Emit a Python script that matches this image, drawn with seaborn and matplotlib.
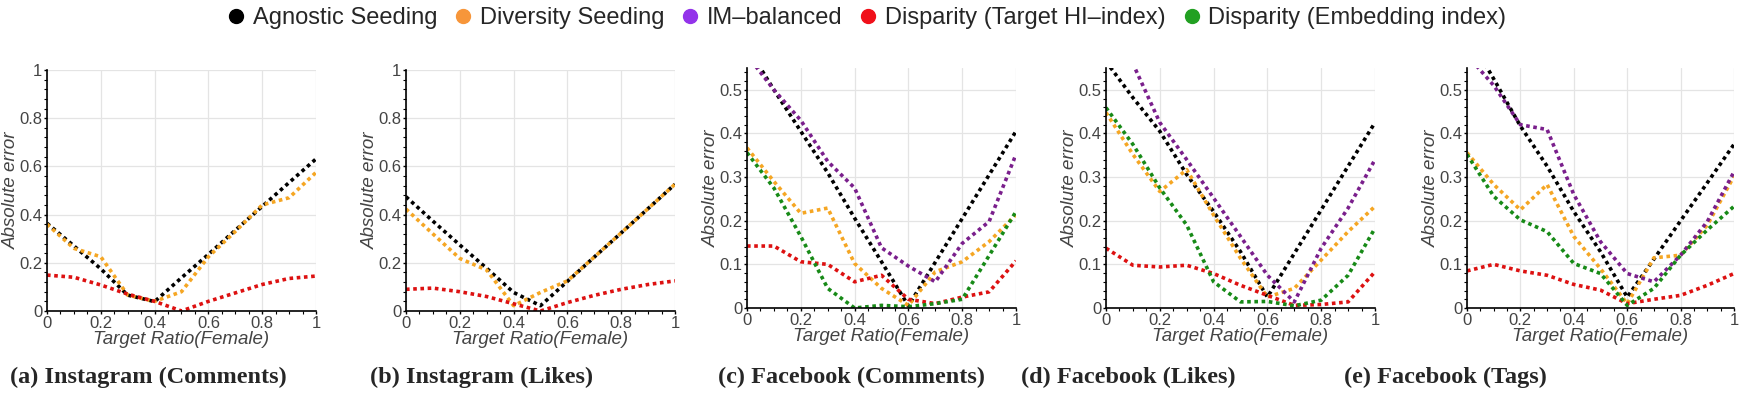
import numpy as np
import pandas as pd
import seaborn as sns
import matplotlib.pyplot as plt
from matplotlib.lines import Line2D
from matplotlib.ticker import AutoMinorLocator, FuncFormatter

# target ratio (female)
ratios = [0.0, 0.1, 0.2, 0.3, 0.4, 0.5, 0.6, 0.7, 0.8, 0.9, 1.0]

methods = ["Agnostic Seeding", "Diversity Seeding", "IM\u2013balanced",
           "Disparity (Target HI\u2013index)", "Disparity (Embedding index)"]

# (a) Instagram (Comments)
ig_com_agnostic = [0.364, 0.27, 0.175, 0.066, 0.039, 0.138, 0.235, 0.335, 0.434, 0.533, 0.631]
ig_com_diversity = [0.36, 0.26, 0.225, 0.066, 0.04, 0.08, 0.225, 0.33, 0.44, 0.47, 0.575]
ig_com_hindex = [0.149, 0.14, 0.108, 0.07, 0.04, 0.0, 0.04, 0.075, 0.11, 0.135, 0.145]

# (b) Instagram (Likes)
ig_like_agnostic = [0.474, 0.373, 0.274, 0.177, 0.077, 0.022, 0.123, 0.224, 0.324, 0.425, 0.526]
ig_like_diversity = [0.423, 0.32, 0.218, 0.17, 0.022, 0.077, 0.125, 0.224, 0.324, 0.425, 0.526]
ig_like_hindex = [0.09, 0.095, 0.08, 0.06, 0.03, 0.0, 0.035, 0.065, 0.09, 0.11, 0.125]

# (c) Facebook (Comments)
fb_com_agnostic = [0.60, 0.50, 0.405, 0.31, 0.206, 0.106, 0.005, 0.105, 0.205, 0.305, 0.405]
fb_com_diversity = [0.367, 0.29, 0.217, 0.229, 0.102, 0.045, 0.006, 0.083, 0.106, 0.152, 0.214]
fb_com_imbal = [0.58, 0.50, 0.43, 0.336, 0.275, 0.138, 0.096, 0.06, 0.148, 0.198, 0.352]
fb_com_hindex = [0.142, 0.142, 0.106, 0.10, 0.06, 0.075, 0.02, 0.01, 0.025, 0.037, 0.108]
fb_com_embed = [0.356, 0.275, 0.164, 0.045, 0.0, 0.006, 0.003, 0.01, 0.02, 0.12, 0.221]

# (d) Facebook (Likes)
fb_like_agnostic = [0.565, 0.482, 0.405, 0.306, 0.221, 0.129, 0.025, 0.125, 0.225, 0.325, 0.425]
fb_like_diversity = [0.448, 0.352, 0.267, 0.317, 0.213, 0.114, 0.025, 0.045, 0.11, 0.175, 0.233]
fb_like_imbal = [0.66, 0.56, 0.425, 0.34, 0.252, 0.164, 0.075, 0.014, 0.137, 0.229, 0.34]
fb_like_hindex = [0.137, 0.098, 0.094, 0.098, 0.079, 0.052, 0.029, 0.006, 0.008, 0.014, 0.083]
fb_like_embed = [0.459, 0.375, 0.275, 0.19, 0.06, 0.014, 0.015, 0.005, 0.018, 0.075, 0.183]

# (e) Facebook (Tags)
fb_tag_agnostic = [0.63, 0.525, 0.417, 0.325, 0.221, 0.129, 0.025, 0.112, 0.20, 0.287, 0.375]
fb_tag_diversity = [0.356, 0.283, 0.225, 0.283, 0.164, 0.09, 0.01, 0.115, 0.121, 0.19, 0.302]
fb_tag_imbal = [0.58, 0.51, 0.42, 0.409, 0.26, 0.152, 0.079, 0.06, 0.121, 0.198, 0.312]
fb_tag_hindex = [0.085, 0.10, 0.085, 0.075, 0.054, 0.041, 0.01, 0.02, 0.029, 0.052, 0.079]
fb_tag_embed = [0.352, 0.256, 0.202, 0.175, 0.102, 0.079, 0.006, 0.045, 0.121, 0.179, 0.233]

captions = ["(a) Instagram (Comments)", "(b) Instagram (Likes)", "(c) Facebook (Comments)",
            "(d) Facebook (Likes)", "(e) Facebook (Tags)"]

A, D, I, H_, E = methods
panels = [
    {A: ig_com_agnostic, D: ig_com_diversity, H_: ig_com_hindex},
    {A: ig_like_agnostic, D: ig_like_diversity, H_: ig_like_hindex},
    {A: fb_com_agnostic, D: fb_com_diversity, I: fb_com_imbal, H_: fb_com_hindex, E: fb_com_embed},
    {A: fb_like_agnostic, D: fb_like_diversity, I: fb_like_imbal, H_: fb_like_hindex, E: fb_like_embed},
    {A: fb_tag_agnostic, D: fb_tag_diversity, I: fb_tag_imbal, H_: fb_tag_hindex, E: fb_tag_embed},
]
ylims = [1.0, 1.0, 0.55, 0.55, 0.55]

line_colors = {A: "#000000", D: "#F5A623", I: "#7A1F8C", H_: "#DD1111", E: "#178A17"}
legend_colors = ["#000000", "#F7963A", "#9333EA", "#F0101A", "#22A022"]

sns.set_theme(style="whitegrid")
plt.rcParams["font.family"] = ["Liberation Sans", "DejaVu Sans"]

fig = plt.figure(figsize=(17.4, 3.99), dpi=100)
W, H = 1740, 399
lefts = [47, 406, 747, 1106, 1467]
widths = [269, 269, 269, 269, 267]
tops = [70, 70, 68, 68, 68]
bottoms = [311, 311, 308, 308, 308]
cap_x = [148, 482, 852, 1128, 1445]

for i, data in enumerate(panels):
    ax = fig.add_axes([lefts[i] / W, 1 - bottoms[i] / H, widths[i] / W, (bottoms[i] - tops[i]) / H])
    rows = []
    for name, vals in data.items():
        for x, y in zip(ratios, vals):
            rows.append({"ratio": x, "error": y, "method": name})
    df = pd.DataFrame(rows)
    sns.lineplot(data=df, x="ratio", y="error", hue="method", palette=line_colors,
                 ax=ax, legend=False, linewidth=2.6, dashes=False)
    for ln in ax.get_lines():
        ln.set_linestyle((0, (1, 1)))
    ax.set_xlim(0, 1)
    ax.set_ylim(0, ylims[i])
    ax.set_xticks([0, 0.2, 0.4, 0.6, 0.8, 1.0])
    if ylims[i] == 1.0:
        ax.set_yticks([0, 0.2, 0.4, 0.6, 0.8, 1.0])
    else:
        ax.set_yticks([0, 0.1, 0.2, 0.3, 0.4, 0.5])
    fmt = FuncFormatter(lambda v, p: "{:g}".format(round(v, 2)))
    ax.xaxis.set_major_formatter(fmt)
    ax.yaxis.set_major_formatter(fmt)
    ax.xaxis.set_minor_locator(AutoMinorLocator(4))
    ax.yaxis.set_minor_locator(AutoMinorLocator(5))
    ax.grid(True, which="major", color="#e4e4e4", linewidth=0.9)
    ax.grid(False, which="minor")
    for s in ["top", "right"]:
        ax.spines[s].set_visible(False)
    for s in ["left", "bottom"]:
        ax.spines[s].set_color("black")
        ax.spines[s].set_linewidth(1.2)
    ax.tick_params(which="major", direction="out", length=2.5, width=1, color="black",
                   labelsize=12, labelcolor="#444444", pad=1, left=True, bottom=True)
    ax.tick_params(which="minor", direction="out", length=2, width=0.8, color="black",
                   left=True, bottom=True)
    ax.set_xlabel("Target Ratio(Female)", fontsize=13.5, style="italic", color="#444444", labelpad=0)
    ax.set_ylabel("Absolute error", fontsize=13.5, style="italic", color="#444444", labelpad=-1)
    ax.set_facecolor("white")
    fig.text(cap_x[i] / W, 1 - 377 / H, captions[i], ha="center", va="center",
             fontsize=17.5, fontweight="bold", family=["Liberation Serif", "DejaVu Serif"])

handles = [Line2D([0], [0], marker="o", linestyle="none", markersize=10,
                  markerfacecolor=c, markeredgecolor=c) for c in legend_colors]
fig.legend(handles, methods, loc="center", bbox_to_anchor=(0.498, 1 - 18 / H), ncol=5,
           frameon=False, fontsize=17, handletextpad=0.3, columnspacing=0.7,
           borderpad=0, handlelength=0.8)

fig.savefig("out.png", dpi=100, facecolor="white")
